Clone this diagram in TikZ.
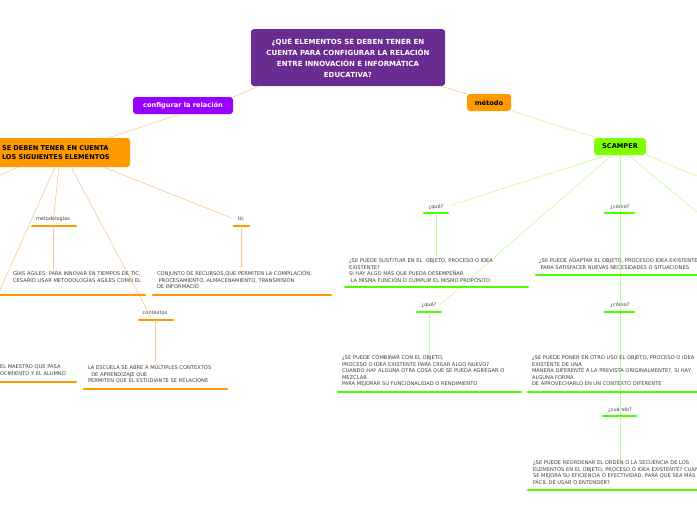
\documentclass[tikz,border=0pt]{standalone}
\usepackage{fontspec}
\setmainfont{DejaVu Sans}
\begin{document}
\begin{tikzpicture}[x=1pt,y=-1pt,
 every node/.style={inner sep=0pt,outer sep=0pt},
 sm/.style={font=\fontsize{5.15}{6.4}\selectfont,text=black!75,align=left,anchor=north west},
 lab/.style={font=\fontsize{5}{6}\selectfont,text=black!75},
 oc/.style={draw=orange!45,line width=0.6pt},
 gc/.style={draw=green!55!yellow!45,line width=0.6pt},
 ou/.style={draw=orange!80!yellow,line width=2.4pt,line cap=round},
 gu/.style={draw=green!70!yellow,line width=2.4pt,line cap=round},
 box/.style={rounded corners=3pt,font=\bfseries\fontsize{7}{11}\selectfont,align=center}]
\useasboundingbox (0,0) rectangle (697,520);
\clip (0,0) rectangle (697,520);
\definecolor{tp}{HTML}{6B2C91}\definecolor{cp}{HTML}{9A00FF}\definecolor{or}{HTML}{FF9900}\definecolor{gr}{HTML}{80FF00}
% main boxes
\node[box,fill=tp,text=white,minimum width=194,minimum height=57] (t) at (348,57.5) {¿QUÉ ELEMENTOS SE DEBEN TENER EN\\CUENTA PARA CONFIGURAR LA RELACIÓN\\ENTRE INNOVACIÓN E INFORMÁTICA\\EDUCATIVA?};
\node[box,fill=cp,text=white,minimum width=100,minimum height=17,font=\bfseries\fontsize{6.6}{8}\selectfont] (cr) at (183,105.5) {configurar la relación};
\node[box,fill=or,text=black,minimum width=44,minimum height=17,font=\bfseries\fontsize{6.6}{8}\selectfont] (me) at (489,102.5) {método};
\node[box,fill=or,text=black,minimum width=142,minimum height=29,align=left,text width=114,font=\bfseries\fontsize{6.6}{8.6}\selectfont] (se) at (59,152.5) {SE DEBEN TENER EN CUENTA\\LOS SIGUIENTES ELEMENTOS};
\node[box,fill=gr,text=black,minimum width=52,minimum height=17,font=\bfseries\fontsize{6.6}{8}\selectfont] (sc) at (620,146.5) {SCAMPER};
\draw[oc] (t.south west)++(8,0) -- (cr.north east);
\draw[oc] (cr.south)++(-3,0) -- ([xshift=-22]se.north east);
\draw[oc] (t.south east)++(-5,0) -- (me.north west);
\draw[gc] (me.south east) -- ([xshift=4]sc.north west);
% left branch
\coordinate (lo) at (0,175);
\coordinate (lo2) at (0,290);
\node[lab] (mt) at (53,219) {metodologías};
\node[lab] (tc) at (241,219) {tic};
\node[lab] (cx) at (155,313) {contextos};
\draw[oc] ([xshift=-40]se.south) -- (lo);
\draw[oc] ([xshift=-4]se.south) -- (lo2);
\draw[oc] (se.south) -- ([yshift=-6]mt.north);
\draw[oc] ([xshift=12]se.south) -- ([xshift=-4,yshift=-6]cx.north);
\draw[oc] ([xshift=44]se.south) -- ([xshift=-6,yshift=-1]tc.north west);
\draw[ou] (32,226) -- (76,226); \draw[ou] (234,226) -- (249,226); \draw[ou] (139,320) -- (173,320);
\node[sm,anchor=north east] (ag) at (141,271) {GÍAS ÁGILES: PARA INNOVAR EN TIEMPOS DE TIC,\\CESARIO USAR METODOLOGÍAS ÁGILES COMO EL};
\node[sm] (cj) at (157,271) {CONJUNTO DE RECURSOS,QUE PERMITEN LA COMPILACIÓN,\\\ PROCESAMIENTO, ALMACENAMIENTO, TRANSMISIÓN\\DE INFORMACIÓ};
\node[sm] (es) at (88,365) {LA ESCUELA SE ABRE A MÚLTIPLES CONTEXTOS\\\ \ DE APRENDIZAJE QUE\\PERMITEN QUE EL ESTUDIANTE SE RELACIONE};
\node[sm] (ma) at (0,365) {EL MAESTRO QUE PASA\\OCIMIENTO Y EL ALUMNO};
\draw[oc] (53,226) -- (53,268); \draw[oc] (241,226) -- (241,268); \draw[oc] (155,320) -- (155,362);
\draw[ou] (-5,295) -- (145,295); \draw[ou] (153,295) -- (331,295);
\draw[ou] (84,389) -- (227,389); \draw[ou] (-5,382) -- (76,382);
% right branch
\node[lab] (q1) at (436,207) {¿qué?};
\node[lab] (c1) at (620,207) {¿cómo?};
\node[lab] (q2) at (429,305) {¿qué?};
\node[lab] (c2) at (620,305) {¿cómo?};
\node[lab] (cu) at (620,410) {¿cuándo?};
\coordinate (r1) at (697,176); \coordinate (r2) at (697,212);
\draw[gc] ([xshift=-12]sc.south) -- ([xshift=14,yshift=-1]q1.north);
\draw[gc] ([xshift=-8]sc.south) -- ([xshift=10,yshift=-3]q2.north);
\draw[gc] (sc.south) -- (620,460);
\draw[gc] ([xshift=8]sc.south) -- (r2);
\draw[gc] (sc.south east) -- (r1);
\draw[gu] (424,213) -- (448,213); \draw[gu] (605,213) -- (634,213);
\draw[gu] (417,312) -- (441,312); \draw[gu] (605,312) -- (634,312); \draw[gu] (603,416) -- (636,416);
\draw[gc] (436,213) -- (436,257); \draw[gc] (429,312) -- (429,355); \draw[gc] (620,416) -- (620,458);
\node[sm] (s1) at (349,259) {¿SE PUEDE SUSTITUIR EN EL \ OBJETO, PROCESO O IDEA\\EXISTENTE?\\SI HAY ALGO MÁS QUE PUEDA DESEMPEÑAR\\\ LA MISMA FUNCIÓN O CUMPLIR EL MISMO PROPÓSITO};
\node[sm] (s2) at (539,259) {¿SE PUEDE ADAPTAR EL OBJETO, PROCESOO IDEA EXISTENTE\\\ PARA SATISFACER NUEVAS NECESIDADES O SITUACIONES};
\node[sm] (s3) at (342,356) {¿SE PUEDE COMBINAR CON EL OBJETO,\\PROCESO O IDEA EXISTENTE PARA CREAR ALGO NUEVO?\\CUANDO HAY ALGUNA OTRA COSA QUE SE PUEDA AGREGAR O\\MEZCLAR\\PARA MEJORAR SU FUNCIONALIDAD O RENDIMIENTO};
\node[sm] (s4) at (532,356) {¿SE PUEDE PONER EN OTRO USO EL OBJETO, PROCESO O IDEA\\EXISTENTE DE UNA\\MANERA DIFERENTE A LA PREVISTA ORIGINALMENTE?, SI HAY\\ALGUNA FORMA\\DE APROVECHARLO EN UN CONTEXTO DIFERENTE};
\node[sm] (s5) at (533,461) {¿SE PUEDE REORDENAR EL ORDEN O LA SECUENCIA DE LOS\\ELEMENTOS EN EL OBJETO, PROCESO O IDEA EXISTENTE? CUANDO\\SE MEJORA SU EFICIENCIA O EFECTIVIDAD, PARA QUE SEA MÁS\\FÁCIL DE USAR O ENTENDER?};
\draw[gu] (345,287) -- (528,287); \draw[gu] (536,275) -- (702,275);
\draw[gu] (338,392) -- (521,392); \draw[gu] (528,392) -- (702,392); \draw[gu] (528,490) -- (702,490);
\end{tikzpicture}
\end{document}
